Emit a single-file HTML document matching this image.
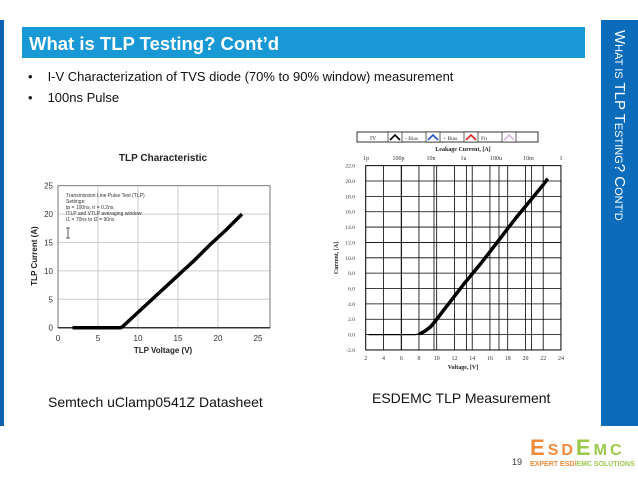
<!DOCTYPE html>
<html><head><meta charset="utf-8">
<style>
body{margin:0;width:638px;height:478px;background:#fff;overflow:hidden;position:relative;font-family:"Liberation Sans",sans-serif}
.abs{position:absolute}
</style></head><body>
<div class="abs" style="left:0;top:20px;width:4px;height:406px;background:#0b62b0"></div>
<div class="abs" style="left:22px;top:27px;width:563px;height:31px;background:#1898d5"></div>
<div class="abs" style="left:29px;top:31px;color:#fff;font-weight:bold;font-size:18.5px;line-height:26px">What is TLP Testing? Cont’d</div>
<div class="abs" style="left:601px;top:20px;width:37px;height:406px;background:#0b6cbc"></div>
<div class="abs" style="left:619px;top:30px;transform-origin:0 0;transform:translateX(8px) rotate(90deg);color:#fff;font-size:15px;white-space:nowrap;line-height:16px">W<span style="font-size:11px">HAT IS</span> TLP T<span style="font-size:11px">ESTING</span>? C<span style="font-size:11px">ONT’D</span></div>
<div class="abs" style="left:28px;top:69px;font-size:13px;color:#111">•<span style="margin-left:15px">I-V Characterization of TVS diode (70% to 90% window) measurement</span></div>
<div class="abs" style="left:28px;top:90px;font-size:13px;color:#111">•<span style="margin-left:15px">100ns Pulse</span></div>
<div class="abs" style="left:48px;top:394px;font-size:14px;color:#111">Semtech uClamp0541Z Datasheet</div>
<div class="abs" style="left:372px;top:390px;font-size:14px;color:#111">ESDEMC TLP Measurement</div>
<div class="abs" style="left:512px;top:457px;font-size:9px;color:#333">19</div>
<div class="abs" style="left:530px;top:436px;font-size:22px;font-weight:bold;letter-spacing:3px;color:#ee8a3a;line-height:24px">E<span style="font-size:16px">SD</span><span style="color:#9bc94a">E<span style="font-size:16px">MC</span></span></div>
<div class="abs" style="left:530px;top:461px;font-size:7px;font-weight:bold;color:#ee8a3a">EXPERT ESD/<span style="color:#9bc94a">EMC SOLUTIONS</span></div>

<svg id="c" class="abs" style="left:0;top:0" width="638" height="478"></svg>
<script>
// Left chart data
const leftXTicks=[0,5,10,15,20,25];
const leftYTicks=[0,5,10,15,20,25];
const leftV=[2,3,4,5,6,7,7.8,8,9,10,11,12,13,14,15,15.6,16,17,18,19,20,21,22,23];
const leftI=[0,0,0,0,0,0,0,0.1,1.4,2.7,4,5.3,6.6,7.9,9.2,10,10.5,11.8,13.2,14.6,15.9,17.2,18.6,20];
// Right chart data
const rightXTicks=[2,4,6,8,10,12,14,16,18,20,22,24];
const rightYTicks=[-2,0,2,4,6,8,10,12,14,16,18,20,22];
const rightYLabels=["-2.0","0.0","2.0","4.0","6.0","8.0","10.0","12.0","14.0","16.0","18.0","20.0","22.0"];
const topLabels=["1p","100p","10n","1u","100u","10m","1"];
const rightV=[2.3,7.6,8.1,8.6,9.3,10,11,12,13,14,15,16,17,18,19,20,21,22,22.5];
const rightI=[0,0,0.1,0.4,1,2,3.5,5,6.5,7.9,9.3,10.8,12.3,13.8,15.3,16.7,18.1,19.5,20.3];

const svg=document.getElementById('c');
const NS='http://www.w3.org/2000/svg';
function mk(t,a,p){const e=document.createElementNS(NS,t);for(const k in a)e.setAttribute(k,a[k]);(p||svg).appendChild(e);return e;}

// LEFT
const lx=v=>58+v*8, ly=v=>327.7-v*5.68;
let g=mk('g',{});


let t=mk('text',{x:163,y:161,'font-size':10,'font-weight':'bold','text-anchor':'middle',fill:'#222'},g);t.textContent='TLP Characteristic';

leftXTicks.forEach(v=>{if(v>0&&v<25){const l=mk('line',{x1:lx(v),x2:lx(v),y1:185,y2:328,stroke:'#ccc','stroke-width':1},g);}
 const tx=mk('text',{x:lx(v),y:341,'font-size':8,'text-anchor':'middle',fill:'#333'},g);tx.textContent=v;});
leftYTicks.forEach(v=>{if(v>0&&v<25){const l=mk('line',{x1:58,x2:270,y1:ly(v),y2:ly(v),stroke:'#ccc','stroke-width':1},g);}
 const tx=mk('text',{x:53,y:ly(v)+3,'font-size':8,'text-anchor':'end',fill:'#333'},g);tx.textContent=v;});
let r=mk('rect',{x:58,y:ly(25),width:212,height:ly(0)-ly(25),fill:'none',stroke:'#777'},g);
mk('line',{x1:58,x2:270,y1:ly(0),y2:ly(0),stroke:'#333','stroke-width':1.5},g);
let p=mk('polyline',{points:leftV.map((v,i)=>lx(v)+','+ly(leftI[i])).join(' '),fill:'none',stroke:'#000','stroke-width':3.5},g);

leftV.forEach((v,i)=>{if(leftI[i]==0){const c=mk('circle',{cx:lx(v),cy:ly(0),r:1.8,fill:'#000'},g);}});
t=mk('text',{x:163,y:353,'font-size':8,'font-weight':'bold','text-anchor':'middle',fill:'#222'},g);t.textContent='TLP Voltage (V)';

t=mk('text',{x:37,y:256,'font-size':8,'font-weight':'bold','text-anchor':'middle',fill:'#222',transform:'rotate(-90 37 256)'},g);t.textContent='TLP Current (A)';

['Transmission Line Pulse Test (TLP)','Settings:','tp = 100ns, tr = 0.2ns,','ITLP and VTLP averaging window:','t1 = 70ns to t2 = 90ns'].forEach((s,i)=>{const a=mk('text',{x:66,y:197+i*6,'font-size':5,fill:'#333'},g);a.textContent=s;});
mk('path',{d:'M66 228h4M68 228v10M66 238h4',stroke:'#333','stroke-width':0.8,fill:'none'},g);

// RIGHT
const rx=v=>365.7+(v-2)*8.875, ry=v=>334.6-v*7.68;
g=mk('g',{});


// legend
r=mk('rect',{x:357,y:132,width:181,height:10,fill:'#fff',stroke:'#000','stroke-width':0.8},g);
const legCols=['#000','#2255cc','#dd2222','#d8b8e0'];const legTxt=['- Bias','+ Bias','Fit',''];
t=mk('text',{x:370,y:140,'font-size':6,'font-family':'Liberation Serif',fill:'#333'},g);t.textContent='IV';
legCols.forEach((c,i)=>{const x0=388+i*38;mk('rect',{x:x0,y:132,width:14,height:10,fill:'#fff',stroke:'#000','stroke-width':0.6},g);
 const pl=mk('polyline',{points:`${x0+2},140 ${x0+7},135 ${x0+12},140`,fill:'none',stroke:c,'stroke-width':1.6},g);
 const tx=mk('text',{x:x0+17,y:140,'font-size':5.5,'font-family':'Liberation Serif',fill:'#333'},g);tx.textContent=legTxt[i];});
t=mk('text',{x:463,y:151,'font-size':6,'font-weight':'bold','font-family':'Liberation Serif','text-anchor':'middle',fill:'#222'},g);t.textContent='Leakage Current, [A]';

topLabels.forEach((s,i)=>{const x=366+i*32.5;const tx=mk('text',{x:x,y:160,'font-size':6,'font-family':'Liberation Serif','text-anchor':'middle',fill:'#333'},g);tx.textContent=s;
 if(i>0&&i<6){const l=mk('line',{x1:x+3,x2:x+3,y1:ry(22),y2:ry(-2),stroke:'#000','stroke-width':0.8},g);}});
rightXTicks.forEach(v=>{if(v>2&&v<24){const l=mk('line',{x1:rx(v),x2:rx(v),y1:ry(22),y2:ry(-2),stroke:'#000','stroke-width':0.8},g);}
 const tx=mk('text',{x:rx(v),y:360,'font-size':6,'font-family':'Liberation Serif','text-anchor':'middle',fill:'#333'},g);tx.textContent=v;});
rightYTicks.forEach((v,i)=>{if(v>-2&&v<22){const l=mk('line',{x1:rx(2),x2:rx(24),y1:ry(v),y2:ry(v),stroke:'#000','stroke-width':0.8},g);}
 const tx=mk('text',{x:355,y:ry(v)+2,'font-size':5.5,'font-family':'Liberation Serif','text-anchor':'end',fill:'#333'},g);tx.textContent=rightYLabels[i];});
r=mk('rect',{x:rx(2),y:ry(22),width:rx(24)-rx(2),height:ry(-2)-ry(22),fill:'none',stroke:'#000','stroke-width':1},g);
p=mk('polyline',{points:rightV.map((v,i)=>rx(v)+','+ry(rightI[i])).join(' '),fill:'none',stroke:'#000','stroke-width':1.3},g);

p=mk('polyline',{points:rightV.slice(2).map((v,i)=>rx(v)+','+ry(rightI[i+2])).join(' '),fill:'none',stroke:'#000','stroke-width':3.5},g);

t=mk('text',{x:463,y:369,'font-size':6,'font-weight':'bold','font-family':'Liberation Serif','text-anchor':'middle',fill:'#222'},g);t.textContent='Voltage, [V]';

t=mk('text',{x:338,y:258,'font-size':6,'font-weight':'bold','font-family':'Liberation Serif','text-anchor':'middle',fill:'#222',transform:'rotate(-90 338 258)'},g);t.textContent='Current, [A]';

</script>
</body></html>
